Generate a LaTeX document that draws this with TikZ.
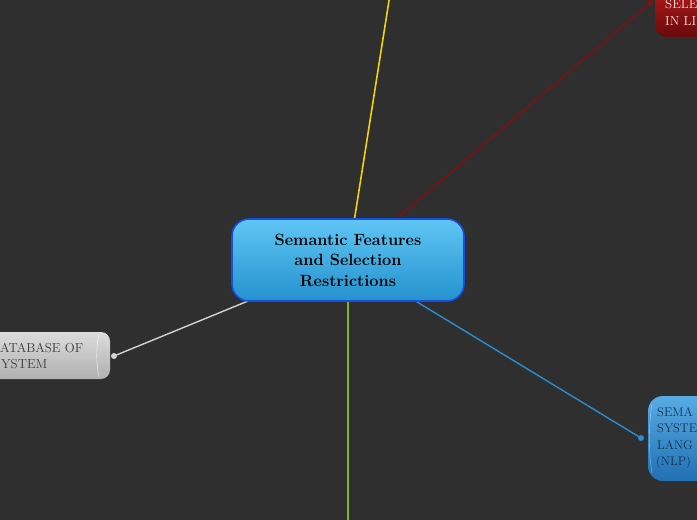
\documentclass[tikz,border=0pt]{standalone}
\pgfdeclarelayer{edges}
\pgfsetlayers{edges,main}
\definecolor{bgc}{RGB}{47,47,47}
\definecolor{mainTop}{RGB}{96,198,245}
\definecolor{mainBot}{RGB}{36,146,206}
\definecolor{mainLine}{RGB}{22,78,228}
\definecolor{yel}{RGB}{246,208,10}
\definecolor{darkred}{RGB}{135,14,14}
\definecolor{grn}{RGB}{124,180,60}
\definecolor{blu}{RGB}{42,140,212}
\definecolor{gry}{RGB}{210,210,210}
\definecolor{redTop}{RGB}{178,26,26}
\definecolor{redBot}{RGB}{104,10,10}
\definecolor{bluTop}{RGB}{88,172,228}
\definecolor{bluBot}{RGB}{32,112,178}
\definecolor{gryTop}{RGB}{220,220,220}
\definecolor{gryBot}{RGB}{176,176,176}
\definecolor{redText}{RGB}{245,225,225}
\definecolor{bluText}{RGB}{20,48,78}
\definecolor{gryText}{RGB}{58,58,58}
\tikzset{
  mainbox/.style={rectangle, rounded corners=17pt, minimum width=232pt, minimum height=82pt,
    draw=mainLine, line width=1.6pt, top color=mainTop, bottom color=mainBot,
    align=center, inner sep=0pt, text=black,
    font=\bfseries\fontsize{16.3}{20.5}\selectfont},
  edge/.style={line width=1.6pt},
  sidetext/.style={anchor=base west, inner sep=0pt, font=\fontsize{13}{15}\selectfont},
  dotmark/.style={radius=3pt}
}
\begin{document}
\begin{tikzpicture}[x=1pt,y=-1pt]
\useasboundingbox (0,0) rectangle (697,520);
\clip (0,0) rectangle (697,520);
\begin{pgfonlayer}{edges}
\fill[bgc] (0,0) rectangle (697,520);
\end{pgfonlayer}
% central node
\node[mainbox] (c) at (348,260) {Semantic Features\\and Selection\\Restrictions};
% end coordinates
\coordinate (ytop) at (391,-12);
\coordinate (gbot) at (348,532);
\coordinate (rdot) at (650,3);
\coordinate (bdot) at (641,438);
\coordinate (gdot) at (114,356);
% side shapes
\path[top color=redTop, bottom color=redBot, rounded corners=11pt] (655,-12) rectangle (730,37);
\path[top color=bluTop, bottom color=bluBot, rounded corners=15pt] (648,396) rectangle (730,481);
\draw[white, opacity=0.35, line width=0.6pt] (652,404) .. controls (648.5,425) and (648.5,452) .. (652,473);
\path[top color=gryTop, bottom color=gryBot, rounded corners=9pt] (-30,332) rectangle (110,379);
\draw[white, opacity=0.6, line width=0.6pt] (99,334) .. controls (96,348) and (96,363) .. (99,377);
% texts
\node[sidetext, text=redText] (r1) at (665,8) {SELE};
\node[sidetext, text=redText] (r2) at (665,25) {IN LI};
\node[sidetext, text=bluText, font=\fontsize{12.5}{15}\selectfont] (b1) at (657,416) {SEMA};
\node[sidetext, text=bluText, font=\fontsize{12.5}{15}\selectfont] (b2) at (657,432.5) {SYSTE};
\node[sidetext, text=bluText, font=\fontsize{12.5}{15}\selectfont] (b3) at (657,449) {LANG};
\node[sidetext, text=bluText, font=\fontsize{12.5}{15}\selectfont] (b4) at (656,465.5) {(NLP)};
\node[sidetext, text=gryText] (g1) at (0,352) {ATABASE OF};
\node[sidetext, text=gryText] (g2) at (1,368) {YSTEM};
% connectors
\begin{pgfonlayer}{edges}
\draw[edge, yel] (c.center) -- (ytop);
\draw[edge, grn] (c.center) -- (gbot);
\draw[edge, darkred, line width=1.4pt] (c.center) -- (rdot);
\draw[edge, blu, line width=1.4pt] (c.center) -- (bdot);
\draw[edge, gry, line width=1.4pt] (c.center) -- (gdot);
\end{pgfonlayer}
\fill[darkred] (rdot) circle[dotmark];
\fill[blu] (bdot) circle[dotmark];
\fill[gry] (gdot) circle[dotmark];
\end{tikzpicture}
\end{document}
